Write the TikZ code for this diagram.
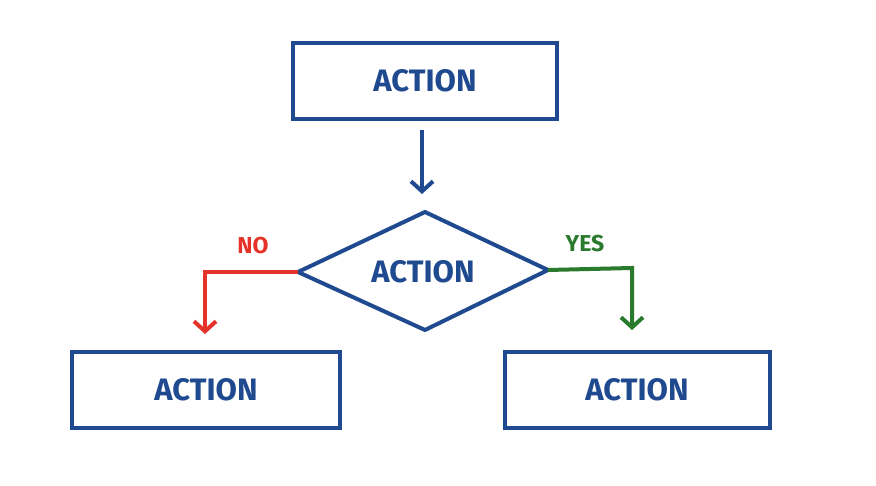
\documentclass[tikz,border=0pt]{standalone}
\usepackage{fontspec}
\setmainfont{Fira Sans}
\usetikzlibrary{arrows.meta}
\definecolor{bl}{HTML}{1F4A90}
\definecolor{rd}{HTML}{E63329}
\definecolor{gn}{HTML}{2A7A2E}
\begin{document}
\begin{tikzpicture}[x=1pt,y=-1pt,
  box/.style={draw=bl,line width=4pt,minimum width=264pt,minimum height=76pt,inner sep=0pt,text=bl,font=\bfseries\fontsize{31}{31}\selectfont},
  lbl/.style={font=\bfseries\fontsize{23}{23}\selectfont},
  arr/.style={line width=4pt,-{Straight Barb[length=10pt,width=22pt]}}]
\fill[white] (0,0) rectangle (876,486);
\useasboundingbox (0,0) rectangle (876,486);
\node[box] (top) at (425,81) {ACTION};
\node[box,minimum width=268pt] (left) at (206,390) {ACTION};
\node[box,minimum width=265pt] (right) at (637,390) {ACTION};
\coordinate (dl) at (298,272);
\coordinate (dt) at (425,212);
\coordinate (dr) at (548,270);
\coordinate (db) at (425,330);
\draw[bl,line width=4pt,line join=round] (dl)--(dt)--(dr)--(db)--cycle;
\node[text=bl,font=\bfseries\fontsize{31}{31}\selectfont] (dtext) at (423,272) {ACTION};
\coordinate (a1) at (422,130);
\coordinate (a2) at (422,194);
\draw[arr,bl] (a1)--(a2);
\coordinate (rl) at (205,272);
\coordinate (rb) at (205,334);
\draw[arr,rd] (dl)--(rl)--(rb);
\coordinate (gr) at (632,268);
\coordinate (gb) at (632,330);
\draw[arr,gn] (dr)--(gr)--(gb);
\node[lbl,text=rd] (no) at (253,246) {NO};
\node[lbl,text=gn] (yes) at (585,244) {YES};
\end{tikzpicture}
\end{document}
